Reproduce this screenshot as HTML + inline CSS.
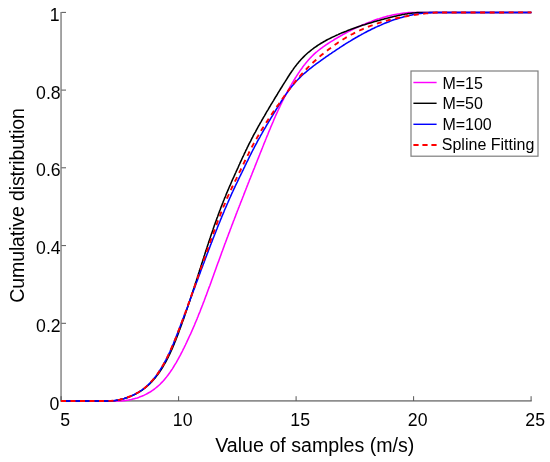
<!DOCTYPE html>
<html><head><meta charset="utf-8"><title>CDF</title>
<style>html,body{margin:0;padding:0;background:#fff}svg{display:block}</style></head>
<body>
<svg width="550" height="462" viewBox="0 0 550 462">
<rect width="550" height="462" fill="#fff"/>
<g stroke="#8e8e8e" stroke-width="1.6" fill="none">
<path d="M61.05 11.9 V401.7"/>
<path d="M60.3 400.9 H531.7"/>
</g>
<g stroke="#444" stroke-width="0.9" fill="none">
<path d="M61.1 400.8 v-4.6"/>
<path d="M178.6 400.8 v-4.6"/>
<path d="M296.1 400.8 v-4.6"/>
<path d="M413.6 400.8 v-4.6"/>
<path d="M531.1 400.8 v-4.6"/>
<path d="M61.5 323.3 h4.5"/>
<path d="M61.5 245.6 h4.5"/>
<path d="M61.5 167.8 h4.5"/>
<path d="M61.5 90.1 h4.5"/>
<path d="M61.5 12.4 h4.5"/>
</g>
<g fill="none" stroke-width="1.55" stroke-linejoin="round">
<path d="M61.0 401.0 L115.0 401.0 L116.5 401.0 L118.0 401.0 L119.5 401.0 L121.0 400.9 L122.5 400.8 L124.0 400.7 L125.5 400.5 L127.0 400.3 L128.5 400.1 L129.9 399.8 L131.4 399.5 L132.9 399.1 L134.4 398.7 L135.8 398.3 L137.3 397.9 L138.7 397.4 L140.1 396.8 L141.6 396.3 L142.9 395.7 L144.3 395.1 L145.7 394.4 L147.0 393.7 L148.3 393.0 L149.6 392.3 L150.9 391.5 L152.1 390.7 L153.3 389.8 L154.5 389.0 L155.7 388.0 L156.8 387.1 L157.9 386.2 L159.0 385.2 L160.1 384.2 L161.1 383.1 L162.1 382.1 L163.2 381.0 L164.1 379.9 L165.1 378.7 L166.1 377.6 L167.0 376.4 L167.9 375.2 L168.8 374.0 L169.7 372.8 L170.5 371.6 L171.4 370.3 L172.2 369.1 L173.0 367.8 L173.8 366.5 L174.6 365.2 L175.4 363.9 L176.2 362.6 L176.9 361.3 L177.7 359.9 L178.4 358.6 L179.1 357.3 L179.9 355.9 L180.6 354.6 L181.3 353.2 L182.0 351.9 L182.7 350.5 L183.3 349.1 L184.0 347.8 L184.7 346.4 L185.4 345.0 L186.0 343.7 L186.7 342.3 L187.3 340.9 L187.9 339.6 L188.6 338.2 L189.2 336.8 L189.8 335.5 L190.5 334.1 L191.1 332.7 L191.7 331.4 L192.3 330.0 L192.9 328.6 L193.5 327.2 L194.1 325.9 L194.7 324.5 L195.2 323.1 L195.8 321.7 L196.4 320.4 L197.0 319.0 L197.5 317.6 L198.1 316.2 L198.6 314.8 L199.2 313.4 L199.8 312.1 L200.3 310.7 L200.8 309.3 L201.4 307.9 L201.9 306.5 L202.5 305.1 L203.0 303.7 L203.5 302.4 L204.1 301.0 L204.6 299.6 L205.1 298.2 L205.6 296.8 L206.2 295.4 L206.7 294.0 L207.2 292.6 L207.7 291.2 L208.2 289.8 L208.7 288.4 L209.2 287.1 L209.8 285.7 L210.3 284.3 L210.8 282.9 L211.3 281.5 L211.8 280.1 L212.3 278.7 L212.8 277.3 L213.3 275.9 L213.8 274.5 L214.3 273.1 L214.8 271.7 L215.3 270.3 L215.8 268.9 L216.3 267.5 L216.8 266.1 L217.3 264.7 L217.8 263.3 L218.4 261.9 L218.9 260.5 L219.4 259.1 L219.9 257.7 L220.4 256.3 L220.9 254.9 L221.4 253.4 L221.9 252.0 L222.5 250.6 L223.0 249.2 L223.5 247.8 L224.0 246.4 L224.5 245.0 L225.0 243.6 L225.6 242.2 L226.1 240.8 L226.6 239.4 L227.1 238.0 L227.7 236.6 L228.2 235.2 L228.7 233.8 L229.3 232.4 L229.8 230.9 L230.3 229.5 L230.9 228.1 L231.4 226.7 L231.9 225.3 L232.5 223.9 L233.0 222.5 L233.5 221.1 L234.1 219.7 L234.6 218.3 L235.2 216.9 L235.7 215.5 L236.2 214.1 L236.8 212.6 L237.3 211.2 L237.9 209.8 L238.4 208.4 L239.0 207.0 L239.5 205.6 L240.1 204.2 L240.6 202.8 L241.2 201.4 L241.7 200.0 L242.3 198.6 L242.8 197.2 L243.4 195.8 L243.9 194.4 L244.5 192.9 L245.0 191.5 L245.6 190.1 L246.1 188.7 L246.7 187.3 L247.2 185.9 L247.8 184.5 L248.3 183.1 L248.9 181.7 L249.4 180.3 L250.0 178.9 L250.6 177.5 L251.1 176.1 L251.7 174.7 L252.2 173.3 L252.8 171.9 L253.3 170.5 L253.9 169.1 L254.5 167.7 L255.0 166.3 L255.6 164.9 L256.1 163.5 L256.7 162.1 L257.2 160.7 L257.8 159.3 L258.4 157.9 L258.9 156.5 L259.5 155.1 L260.0 153.7 L260.6 152.3 L261.2 150.9 L261.7 149.5 L262.3 148.1 L262.8 146.7 L263.4 145.3 L263.9 143.9 L264.5 142.5 L265.1 141.1 L265.6 139.7 L266.2 138.3 L266.7 137.0 L267.3 135.6 L267.9 134.2 L268.4 132.8 L269.0 131.4 L269.6 130.0 L270.2 128.6 L270.7 127.3 L271.3 125.9 L271.9 124.5 L272.5 123.1 L273.1 121.8 L273.6 120.4 L274.2 119.0 L274.8 117.6 L275.4 116.3 L276.0 114.9 L276.6 113.6 L277.3 112.2 L277.9 110.8 L278.5 109.5 L279.1 108.1 L279.8 106.8 L280.4 105.4 L281.0 104.1 L281.7 102.8 L282.3 101.4 L283.0 100.1 L283.7 98.8 L284.3 97.4 L285.0 96.1 L285.7 94.8 L286.4 93.5 L287.1 92.2 L287.8 90.8 L288.5 89.5 L289.3 88.2 L290.0 86.9 L290.7 85.6 L291.5 84.4 L292.2 83.1 L293.0 81.8 L293.8 80.5 L294.6 79.2 L295.3 78.0 L296.2 76.7 L297.0 75.4 L297.8 74.2 L298.6 72.9 L299.5 71.7 L300.3 70.4 L301.2 69.2 L302.1 68.0 L302.9 66.8 L303.8 65.6 L304.8 64.4 L305.7 63.2 L306.7 62.1 L307.6 60.9 L308.6 59.8 L309.6 58.7 L310.6 57.6 L311.7 56.5 L312.7 55.5 L313.8 54.4 L314.9 53.4 L316.0 52.4 L317.2 51.5 L318.3 50.5 L319.5 49.6 L320.7 48.7 L321.9 47.8 L323.1 46.9 L324.3 46.1 L325.6 45.2 L326.8 44.4 L328.1 43.5 L329.4 42.7 L330.6 41.9 L331.9 41.1 L333.2 40.3 L334.4 39.5 L335.7 38.7 L337.0 38.0 L338.3 37.2 L339.6 36.5 L340.9 35.7 L342.2 35.0 L343.5 34.2 L344.9 33.5 L346.2 32.8 L347.5 32.1 L348.8 31.4 L350.2 30.7 L351.5 30.1 L352.9 29.4 L354.2 28.7 L355.6 28.1 L356.9 27.5 L358.3 26.8 L359.7 26.2 L361.0 25.6 L362.4 25.0 L363.8 24.4 L365.2 23.9 L366.6 23.3 L368.0 22.7 L369.4 22.2 L370.8 21.7 L372.2 21.1 L373.6 20.6 L375.0 20.1 L376.4 19.6 L377.8 19.1 L379.3 18.7 L380.7 18.2 L382.1 17.8 L383.6 17.3 L385.0 16.9 L386.4 16.5 L387.9 16.1 L389.3 15.8 L390.8 15.4 L392.3 15.1 L393.7 14.8 L395.2 14.5 L396.7 14.2 L398.1 13.9 L399.6 13.7 L401.1 13.4 L402.6 13.2 L404.1 13.0 L405.5 12.9 L407.0 12.7 L408.5 12.6 L410.0 12.5 L410.5 12.5 L531.4 12.4" stroke="#ff00ff"/>
<path d="M61.0 401.0 L106.4 401.0 L107.9 401.0 L109.4 401.0 L110.9 400.9 L112.4 400.8 L113.9 400.7 L115.4 400.5 L116.9 400.2 L118.4 400.0 L119.9 399.7 L121.4 399.3 L122.8 399.0 L124.3 398.6 L125.7 398.1 L127.1 397.7 L128.6 397.1 L130.0 396.6 L131.4 396.0 L132.7 395.4 L134.1 394.8 L135.4 394.1 L136.8 393.4 L138.1 392.6 L139.4 391.9 L140.6 391.1 L141.9 390.3 L143.1 389.4 L144.3 388.5 L145.4 387.6 L146.6 386.7 L147.7 385.7 L148.8 384.7 L149.9 383.7 L150.9 382.6 L151.9 381.6 L152.9 380.5 L153.9 379.3 L154.9 378.2 L155.8 377.1 L156.7 375.9 L157.6 374.7 L158.5 373.5 L159.4 372.3 L160.2 371.1 L161.0 369.8 L161.8 368.5 L162.6 367.3 L163.4 366.0 L164.1 364.7 L164.9 363.4 L165.6 362.1 L166.3 360.8 L167.0 359.4 L167.7 358.1 L168.4 356.8 L169.0 355.4 L169.7 354.1 L170.3 352.7 L171.0 351.3 L171.6 350.0 L172.2 348.6 L172.8 347.2 L173.4 345.8 L174.0 344.4 L174.5 343.0 L175.1 341.6 L175.7 340.2 L176.2 338.8 L176.8 337.4 L177.3 336.0 L177.9 334.6 L178.4 333.2 L178.9 331.7 L179.4 330.3 L180.0 328.9 L180.5 327.5 L181.0 326.1 L181.5 324.7 L182.0 323.2 L182.5 321.8 L183.1 320.4 L183.6 319.0 L184.1 317.6 L184.6 316.1 L185.0 314.7 L185.5 313.3 L186.0 311.9 L186.5 310.5 L187.0 309.0 L187.5 307.6 L188.0 306.2 L188.4 304.8 L188.9 303.3 L189.4 301.9 L189.9 300.5 L190.3 299.1 L190.8 297.6 L191.3 296.2 L191.7 294.8 L192.2 293.4 L192.7 291.9 L193.1 290.5 L193.6 289.1 L194.1 287.7 L194.5 286.2 L195.0 284.8 L195.4 283.4 L195.9 282.0 L196.4 280.5 L196.8 279.1 L197.3 277.7 L197.7 276.3 L198.2 274.8 L198.6 273.4 L199.1 272.0 L199.5 270.5 L200.0 269.1 L200.5 267.7 L200.9 266.3 L201.4 264.8 L201.8 263.4 L202.3 262.0 L202.7 260.6 L203.2 259.2 L203.7 257.7 L204.1 256.3 L204.6 254.9 L205.0 253.5 L205.5 252.0 L206.0 250.6 L206.4 249.2 L206.9 247.8 L207.3 246.4 L207.8 244.9 L208.3 243.5 L208.7 242.1 L209.2 240.7 L209.7 239.3 L210.2 237.8 L210.6 236.4 L211.1 235.0 L211.6 233.6 L212.1 232.2 L212.6 230.8 L213.1 229.3 L213.5 227.9 L214.0 226.5 L214.5 225.1 L215.0 223.7 L215.5 222.3 L216.0 220.9 L216.5 219.5 L217.0 218.1 L217.6 216.7 L218.1 215.2 L218.6 213.8 L219.1 212.4 L219.6 211.0 L220.2 209.6 L220.7 208.2 L221.2 206.8 L221.8 205.4 L222.3 204.0 L222.9 202.6 L223.4 201.2 L224.0 199.8 L224.5 198.4 L225.1 197.1 L225.7 195.7 L226.2 194.3 L226.8 192.9 L227.4 191.5 L228.0 190.1 L228.6 188.7 L229.2 187.3 L229.8 185.9 L230.4 184.6 L231.0 183.2 L231.6 181.8 L232.2 180.4 L232.8 179.0 L233.5 177.7 L234.1 176.3 L234.7 174.9 L235.3 173.5 L235.9 172.2 L236.5 170.8 L237.2 169.4 L237.8 168.1 L238.4 166.7 L239.0 165.3 L239.6 164.0 L240.2 162.6 L240.9 161.2 L241.5 159.9 L242.1 158.5 L242.7 157.2 L243.4 155.8 L244.0 154.5 L244.6 153.1 L245.3 151.8 L245.9 150.4 L246.6 149.1 L247.2 147.7 L247.9 146.4 L248.5 145.1 L249.2 143.7 L249.9 142.4 L250.6 141.1 L251.3 139.7 L251.9 138.4 L252.6 137.1 L253.3 135.7 L254.0 134.4 L254.7 133.1 L255.5 131.8 L256.2 130.4 L256.9 129.1 L257.6 127.8 L258.3 126.5 L259.1 125.2 L259.8 123.9 L260.5 122.6 L261.3 121.3 L262.0 120.0 L262.8 118.7 L263.5 117.4 L264.3 116.1 L265.0 114.8 L265.8 113.5 L266.5 112.2 L267.3 110.9 L268.1 109.6 L268.8 108.3 L269.6 107.0 L270.4 105.7 L271.1 104.4 L271.9 103.2 L272.7 101.9 L273.5 100.6 L274.2 99.3 L275.0 98.0 L275.8 96.7 L276.6 95.5 L277.4 94.2 L278.1 92.9 L278.9 91.6 L279.7 90.3 L280.5 89.0 L281.3 87.8 L282.1 86.5 L282.9 85.2 L283.7 83.9 L284.5 82.6 L285.3 81.4 L286.1 80.1 L286.9 78.8 L287.7 77.5 L288.5 76.3 L289.3 75.0 L290.1 73.8 L291.0 72.5 L291.8 71.3 L292.7 70.1 L293.5 68.8 L294.4 67.6 L295.3 66.4 L296.2 65.3 L297.1 64.1 L298.1 62.9 L299.0 61.8 L300.0 60.7 L301.0 59.6 L302.0 58.5 L303.1 57.4 L304.1 56.4 L305.2 55.3 L306.3 54.3 L307.4 53.3 L308.5 52.3 L309.7 51.4 L310.9 50.4 L312.0 49.5 L313.2 48.6 L314.4 47.7 L315.7 46.8 L316.9 46.0 L318.1 45.2 L319.4 44.3 L320.7 43.5 L322.0 42.8 L323.3 42.0 L324.6 41.3 L325.9 40.5 L327.2 39.8 L328.5 39.1 L329.8 38.5 L331.2 37.8 L332.5 37.1 L333.9 36.5 L335.2 35.9 L336.6 35.2 L338.0 34.6 L339.3 34.0 L340.7 33.4 L342.1 32.8 L343.5 32.3 L344.8 31.7 L346.2 31.2 L347.6 30.6 L349.0 30.1 L350.4 29.5 L351.8 29.0 L353.2 28.5 L354.6 28.0 L356.0 27.5 L357.5 27.0 L358.9 26.5 L360.3 26.1 L361.7 25.6 L363.1 25.1 L364.6 24.7 L366.0 24.2 L367.4 23.8 L368.9 23.3 L370.3 22.9 L371.8 22.5 L373.2 22.1 L374.7 21.6 L376.1 21.2 L377.5 20.8 L379.0 20.4 L380.5 20.0 L381.9 19.6 L383.4 19.2 L384.8 18.8 L386.3 18.4 L387.7 18.1 L389.2 17.7 L390.7 17.3 L392.1 16.9 L393.6 16.6 L395.1 16.2 L396.5 15.9 L398.0 15.6 L399.5 15.2 L401.0 14.9 L402.4 14.6 L403.9 14.4 L405.4 14.1 L406.9 13.9 L408.3 13.6 L409.8 13.4 L411.3 13.2 L412.8 13.0 L414.2 12.9 L415.7 12.7 L417.2 12.6 L418.7 12.5 L419.4 12.5 L531.4 12.4" stroke="#000"/>
<path d="M61.0 401.0 L106.4 401.0 L107.9 401.0 L109.4 400.9 L110.9 400.9 L112.4 400.7 L113.9 400.6 L115.4 400.4 L116.9 400.1 L118.4 399.9 L119.8 399.6 L121.3 399.2 L122.8 398.9 L124.2 398.5 L125.7 398.0 L127.1 397.5 L128.5 397.0 L129.9 396.5 L131.3 395.9 L132.7 395.3 L134.0 394.6 L135.4 393.9 L136.7 393.2 L138.0 392.5 L139.3 391.7 L140.5 390.9 L141.8 390.1 L143.0 389.2 L144.2 388.3 L145.3 387.4 L146.4 386.4 L147.6 385.4 L148.6 384.4 L149.7 383.4 L150.7 382.3 L151.7 381.2 L152.7 380.1 L153.7 379.0 L154.6 377.8 L155.5 376.6 L156.4 375.4 L157.3 374.2 L158.2 373.0 L159.0 371.7 L159.8 370.5 L160.6 369.2 L161.4 367.9 L162.2 366.7 L163.0 365.4 L163.7 364.0 L164.4 362.7 L165.1 361.4 L165.8 360.1 L166.5 358.7 L167.2 357.4 L167.9 356.0 L168.5 354.7 L169.1 353.3 L169.8 352.0 L170.4 350.6 L171.0 349.2 L171.6 347.8 L172.2 346.5 L172.8 345.1 L173.4 343.7 L173.9 342.3 L174.5 340.9 L175.1 339.5 L175.6 338.1 L176.2 336.7 L176.7 335.3 L177.3 333.9 L177.8 332.5 L178.3 331.1 L178.9 329.7 L179.4 328.3 L180.0 326.9 L180.5 325.4 L181.0 324.0 L181.6 322.6 L182.1 321.2 L182.6 319.8 L183.2 318.4 L183.7 317.0 L184.2 315.6 L184.7 314.2 L185.3 312.8 L185.8 311.4 L186.3 310.0 L186.9 308.6 L187.4 307.2 L187.9 305.8 L188.4 304.3 L189.0 302.9 L189.5 301.5 L190.0 300.1 L190.5 298.7 L191.0 297.3 L191.6 295.9 L192.1 294.5 L192.6 293.1 L193.1 291.7 L193.6 290.3 L194.2 288.9 L194.7 287.5 L195.2 286.1 L195.7 284.7 L196.2 283.2 L196.8 281.8 L197.3 280.4 L197.8 279.0 L198.3 277.6 L198.8 276.2 L199.4 274.8 L199.9 273.4 L200.4 272.0 L200.9 270.6 L201.4 269.2 L202.0 267.8 L202.5 266.4 L203.0 265.0 L203.5 263.6 L204.1 262.2 L204.6 260.8 L205.1 259.4 L205.6 258.0 L206.2 256.6 L206.7 255.2 L207.2 253.8 L207.8 252.4 L208.3 251.0 L208.8 249.6 L209.4 248.2 L209.9 246.8 L210.4 245.4 L211.0 244.0 L211.5 242.6 L212.1 241.2 L212.6 239.8 L213.1 238.4 L213.7 237.0 L214.2 235.7 L214.8 234.3 L215.3 232.9 L215.9 231.5 L216.4 230.1 L217.0 228.7 L217.5 227.3 L218.1 225.9 L218.6 224.5 L219.2 223.2 L219.8 221.8 L220.3 220.4 L220.9 219.0 L221.5 217.6 L222.0 216.2 L222.6 214.9 L223.2 213.5 L223.8 212.1 L224.3 210.7 L224.9 209.3 L225.5 208.0 L226.1 206.6 L226.7 205.2 L227.3 203.8 L227.9 202.5 L228.5 201.1 L229.1 199.7 L229.7 198.3 L230.3 197.0 L230.9 195.6 L231.5 194.2 L232.1 192.9 L232.8 191.5 L233.4 190.1 L234.0 188.8 L234.7 187.4 L235.3 186.0 L236.0 184.7 L236.6 183.3 L237.3 182.0 L237.9 180.6 L238.6 179.2 L239.2 177.9 L239.9 176.5 L240.6 175.2 L241.2 173.8 L241.9 172.5 L242.5 171.1 L243.2 169.8 L243.8 168.4 L244.5 167.1 L245.1 165.7 L245.8 164.4 L246.4 163.0 L247.1 161.7 L247.8 160.4 L248.4 159.0 L249.1 157.7 L249.7 156.3 L250.4 155.0 L251.1 153.7 L251.7 152.3 L252.4 151.0 L253.1 149.7 L253.8 148.4 L254.5 147.0 L255.2 145.7 L255.9 144.4 L256.6 143.1 L257.3 141.7 L258.0 140.4 L258.7 139.1 L259.5 137.8 L260.2 136.5 L260.9 135.1 L261.7 133.8 L262.4 132.5 L263.2 131.2 L263.9 129.9 L264.7 128.6 L265.5 127.3 L266.2 126.0 L267.0 124.7 L267.8 123.4 L268.5 122.1 L269.3 120.8 L270.1 119.5 L270.9 118.2 L271.7 116.9 L272.5 115.6 L273.2 114.3 L274.0 113.0 L274.8 111.8 L275.6 110.5 L276.4 109.2 L277.2 107.9 L278.0 106.6 L278.8 105.4 L279.6 104.1 L280.4 102.8 L281.2 101.5 L282.0 100.3 L282.8 99.0 L283.6 97.8 L284.4 96.6 L285.3 95.3 L286.1 94.1 L287.0 92.9 L287.8 91.7 L288.7 90.5 L289.6 89.3 L290.5 88.1 L291.4 86.9 L292.3 85.8 L293.3 84.7 L294.2 83.5 L295.2 82.4 L296.2 81.3 L297.2 80.2 L298.2 79.2 L299.3 78.1 L300.3 77.1 L301.4 76.0 L302.5 75.0 L303.6 74.0 L304.7 73.1 L305.9 72.1 L307.0 71.1 L308.2 70.2 L309.3 69.2 L310.5 68.3 L311.7 67.4 L312.9 66.4 L314.1 65.5 L315.3 64.6 L316.5 63.7 L317.7 62.8 L319.0 62.0 L320.2 61.1 L321.4 60.2 L322.6 59.3 L323.9 58.4 L325.1 57.6 L326.3 56.7 L327.6 55.8 L328.8 55.0 L330.0 54.1 L331.3 53.3 L332.5 52.4 L333.8 51.6 L335.0 50.8 L336.3 49.9 L337.5 49.1 L338.8 48.3 L340.0 47.4 L341.3 46.6 L342.5 45.8 L343.8 45.0 L345.1 44.2 L346.3 43.4 L347.6 42.6 L348.9 41.8 L350.2 41.1 L351.4 40.3 L352.7 39.5 L354.0 38.8 L355.3 38.0 L356.6 37.3 L357.9 36.5 L359.2 35.8 L360.5 35.1 L361.8 34.3 L363.2 33.6 L364.5 32.9 L365.8 32.2 L367.1 31.5 L368.5 30.8 L369.8 30.2 L371.1 29.5 L372.5 28.8 L373.8 28.2 L375.2 27.5 L376.6 26.9 L377.9 26.3 L379.3 25.7 L380.7 25.1 L382.0 24.5 L383.4 23.9 L384.8 23.3 L386.2 22.7 L387.6 22.2 L389.0 21.7 L390.4 21.1 L391.8 20.6 L393.2 20.1 L394.6 19.6 L396.0 19.2 L397.5 18.7 L398.9 18.3 L400.3 17.8 L401.8 17.4 L403.2 17.0 L404.6 16.6 L406.1 16.3 L407.5 15.9 L409.0 15.6 L410.4 15.2 L411.9 14.9 L413.4 14.6 L414.8 14.4 L416.3 14.1 L417.8 13.9 L419.3 13.6 L420.8 13.4 L422.3 13.3 L423.7 13.1 L425.2 13.0 L426.7 12.8 L428.3 12.7 L429.8 12.6 L431.3 12.6 L432.8 12.5 L433.4 12.5 L531.4 12.4" stroke="#0000ff"/>
<path d="M61.0 401.0 L106.4 401.0 L107.9 401.0 L109.4 400.9 L110.9 400.9 L112.4 400.7 L113.9 400.6 L115.4 400.4 L116.9 400.2 L118.3 399.9 L119.8 399.6 L121.3 399.2 L122.8 398.9 L124.2 398.5 L125.6 398.0 L127.1 397.5 L128.5 397.0 L129.9 396.5 L131.3 395.9 L132.7 395.3 L134.0 394.6 L135.4 394.0 L136.7 393.2 L138.0 392.5 L139.3 391.7 L140.5 390.9 L141.8 390.1 L143.0 389.2 L144.2 388.3 L145.3 387.4 L146.5 386.4 L147.6 385.4 L148.6 384.4 L149.7 383.3 L150.7 382.3 L151.7 381.2 L152.7 380.1 L153.7 378.9 L154.6 377.8 L155.5 376.6 L156.4 375.4 L157.3 374.2 L158.2 372.9 L159.0 371.7 L159.8 370.4 L160.6 369.2 L161.4 367.9 L162.2 366.6 L163.0 365.3 L163.7 364.0 L164.4 362.7 L165.1 361.4 L165.8 360.0 L166.5 358.7 L167.2 357.4 L167.9 356.0 L168.5 354.7 L169.2 353.3 L169.8 352.0 L170.4 350.6 L171.0 349.2 L171.6 347.8 L172.2 346.5 L172.8 345.1 L173.4 343.7 L174.0 342.3 L174.6 340.9 L175.1 339.5 L175.7 338.1 L176.2 336.7 L176.8 335.3 L177.3 333.9 L177.9 332.5 L178.4 331.1 L179.0 329.7 L179.5 328.3 L180.0 326.9 L180.6 325.5 L181.1 324.1 L181.6 322.7 L182.1 321.3 L182.7 319.9 L183.2 318.5 L183.7 317.1 L184.2 315.7 L184.7 314.2 L185.3 312.8 L185.8 311.4 L186.3 310.0 L186.8 308.6 L187.3 307.2 L187.8 305.8 L188.3 304.4 L188.8 302.9 L189.3 301.5 L189.8 300.1 L190.3 298.7 L190.8 297.3 L191.3 295.9 L191.8 294.5 L192.3 293.0 L192.8 291.6 L193.3 290.2 L193.8 288.8 L194.3 287.4 L194.8 286.0 L195.3 284.5 L195.8 283.1 L196.3 281.7 L196.8 280.3 L197.3 278.9 L197.8 277.5 L198.3 276.0 L198.8 274.6 L199.2 273.2 L199.7 271.8 L200.2 270.4 L200.7 269.0 L201.2 267.5 L201.7 266.1 L202.2 264.7 L202.7 263.3 L203.2 261.9 L203.7 260.5 L204.2 259.0 L204.7 257.6 L205.2 256.2 L205.6 254.8 L206.1 253.4 L206.6 252.0 L207.1 250.6 L207.6 249.2 L208.1 247.7 L208.6 246.3 L209.1 244.9 L209.6 243.5 L210.1 242.1 L210.6 240.7 L211.1 239.3 L211.6 237.9 L212.1 236.5 L212.7 235.1 L213.2 233.7 L213.7 232.3 L214.2 230.9 L214.7 229.5 L215.2 228.1 L215.7 226.7 L216.3 225.3 L216.8 223.9 L217.3 222.5 L217.8 221.1 L218.4 219.7 L218.9 218.3 L219.4 216.9 L220.0 215.5 L220.5 214.1 L221.1 212.7 L221.6 211.3 L222.2 209.9 L222.8 208.5 L223.3 207.1 L223.9 205.7 L224.5 204.4 L225.1 203.0 L225.6 201.6 L226.2 200.2 L226.8 198.8 L227.4 197.5 L228.0 196.1 L228.7 194.7 L229.3 193.3 L229.9 191.9 L230.5 190.6 L231.2 189.2 L231.8 187.8 L232.5 186.5 L233.1 185.1 L233.8 183.7 L234.5 182.4 L235.1 181.0 L235.8 179.7 L236.5 178.3 L237.1 176.9 L237.8 175.6 L238.5 174.2 L239.1 172.9 L239.8 171.5 L240.5 170.2 L241.1 168.8 L241.8 167.5 L242.4 166.1 L243.1 164.8 L243.7 163.5 L244.3 162.1 L245.0 160.8 L245.6 159.4 L246.3 158.1 L246.9 156.8 L247.6 155.5 L248.3 154.1 L248.9 152.8 L249.6 151.5 L250.3 150.2 L250.9 148.8 L251.6 147.5 L252.3 146.2 L253.0 144.9 L253.7 143.6 L254.5 142.3 L255.2 141.0 L255.9 139.7 L256.7 138.4 L257.4 137.1 L258.2 135.8 L258.9 134.5 L259.7 133.2 L260.5 131.9 L261.2 130.6 L262.0 129.3 L262.8 128.0 L263.6 126.8 L264.4 125.5 L265.2 124.2 L266.0 122.9 L266.8 121.7 L267.7 120.4 L268.5 119.1 L269.3 117.9 L270.2 116.6 L271.0 115.3 L271.8 114.1 L272.7 112.8 L273.5 111.6 L274.4 110.3 L275.2 109.1 L276.1 107.9 L276.9 106.6 L277.8 105.4 L278.7 104.2 L279.5 102.9 L280.4 101.7 L281.3 100.5 L282.1 99.3 L283.0 98.0 L283.9 96.8 L284.7 95.6 L285.6 94.4 L286.5 93.2 L287.4 92.0 L288.2 90.8 L289.1 89.6 L290.0 88.4 L290.9 87.2 L291.8 86.1 L292.7 84.9 L293.7 83.7 L294.6 82.5 L295.5 81.4 L296.5 80.2 L297.5 79.1 L298.4 77.9 L299.4 76.8 L300.4 75.6 L301.4 74.5 L302.4 73.4 L303.4 72.3 L304.4 71.2 L305.4 70.1 L306.5 69.0 L307.5 67.9 L308.5 66.9 L309.6 65.8 L310.7 64.8 L311.7 63.7 L312.8 62.7 L313.9 61.7 L315.0 60.7 L316.1 59.7 L317.2 58.7 L318.4 57.7 L319.5 56.7 L320.6 55.8 L321.8 54.8 L322.9 53.9 L324.1 53.0 L325.3 52.0 L326.4 51.1 L327.6 50.2 L328.8 49.3 L330.0 48.4 L331.2 47.5 L332.5 46.6 L333.7 45.7 L334.9 44.8 L336.1 44.0 L337.4 43.1 L338.6 42.2 L339.9 41.4 L341.2 40.6 L342.4 39.8 L343.7 39.0 L345.0 38.2 L346.3 37.4 L347.6 36.7 L348.9 35.9 L350.2 35.2 L351.5 34.5 L352.9 33.8 L354.2 33.1 L355.5 32.4 L356.9 31.8 L358.2 31.1 L359.6 30.5 L360.9 29.9 L362.3 29.3 L363.7 28.7 L365.1 28.1 L366.4 27.5 L367.8 27.0 L369.2 26.4 L370.6 25.9 L372.0 25.4 L373.4 24.8 L374.8 24.4 L376.2 23.9 L377.7 23.4 L379.1 22.9 L380.5 22.5 L381.9 22.0 L383.4 21.6 L384.8 21.2 L386.2 20.8 L387.7 20.4 L389.1 20.0 L390.6 19.6 L392.0 19.3 L393.5 18.9 L394.9 18.6 L396.4 18.2 L397.9 17.9 L399.3 17.6 L400.8 17.3 L402.3 17.0 L403.8 16.7 L405.2 16.4 L406.7 16.2 L408.2 15.9 L409.7 15.6 L411.1 15.4 L412.6 15.2 L414.1 14.9 L415.6 14.7 L417.1 14.5 L418.6 14.3 L420.1 14.1 L421.6 13.9 L423.0 13.7 L424.5 13.6 L426.0 13.4 L427.5 13.3 L429.0 13.1 L430.5 13.0 L432.0 12.8 L433.5 12.7 L435.0 12.6 L435.9 12.5 L531.4 12.4" stroke="#ff0000" stroke-width="1.9" stroke-dasharray="5 4.5"/>
</g>
<g font-family="'Liberation Sans', Arial, sans-serif" font-size="17.7" fill="#000">
<text x="65.2" y="426.4" text-anchor="middle">5</text>
<text x="182.7" y="426.4" text-anchor="middle">10</text>
<text x="300.2" y="426.4" text-anchor="middle">15</text>
<text x="417.7" y="426.4" text-anchor="middle">20</text>
<text x="535.2" y="426.4" text-anchor="middle">25</text>
<text x="59.4" y="410.0" text-anchor="end">0</text>
<text x="60.7" y="331.7" text-anchor="end">0.2</text>
<text x="60.7" y="254.0" text-anchor="end">0.4</text>
<text x="60.7" y="176.2" text-anchor="end">0.6</text>
<text x="60.7" y="98.5" text-anchor="end">0.8</text>
<text x="59.7" y="20.8" text-anchor="end">1</text>
<text x="215.2" y="452" font-size="19.6" textLength="199.2">Value of samples (m/s)</text>
<text transform="translate(23.7 302.7) rotate(-90)" font-size="19.6" textLength="194.7">Cumulative distribution</text>
<rect x="411" y="71" width="127" height="85.2" fill="#fff" stroke="#7e7e7e" stroke-width="1.2"/>
<path d="M413.4 82.5 H436.6" stroke="#ff00ff" stroke-width="1.45" fill="none"/>
<text x="442.4" y="88.6" font-size="16">M=15</text>
<path d="M413.4 103.3 H436.6" stroke="#000" stroke-width="1.45" fill="none"/>
<text x="442.4" y="109.3" font-size="16">M=50</text>
<path d="M413.4 124.3 H436.6" stroke="#0000ff" stroke-width="1.45" fill="none"/>
<text x="442.4" y="129.9" font-size="16">M=100</text>
<path d="M413.4 145 H436.6" stroke="#ff0000" stroke-dasharray="5.2 3.8" stroke-width="2" fill="none"/>
<text x="441.8" y="149.9" font-size="16">Spline Fitting</text>
</g>
</svg>
</body></html>
